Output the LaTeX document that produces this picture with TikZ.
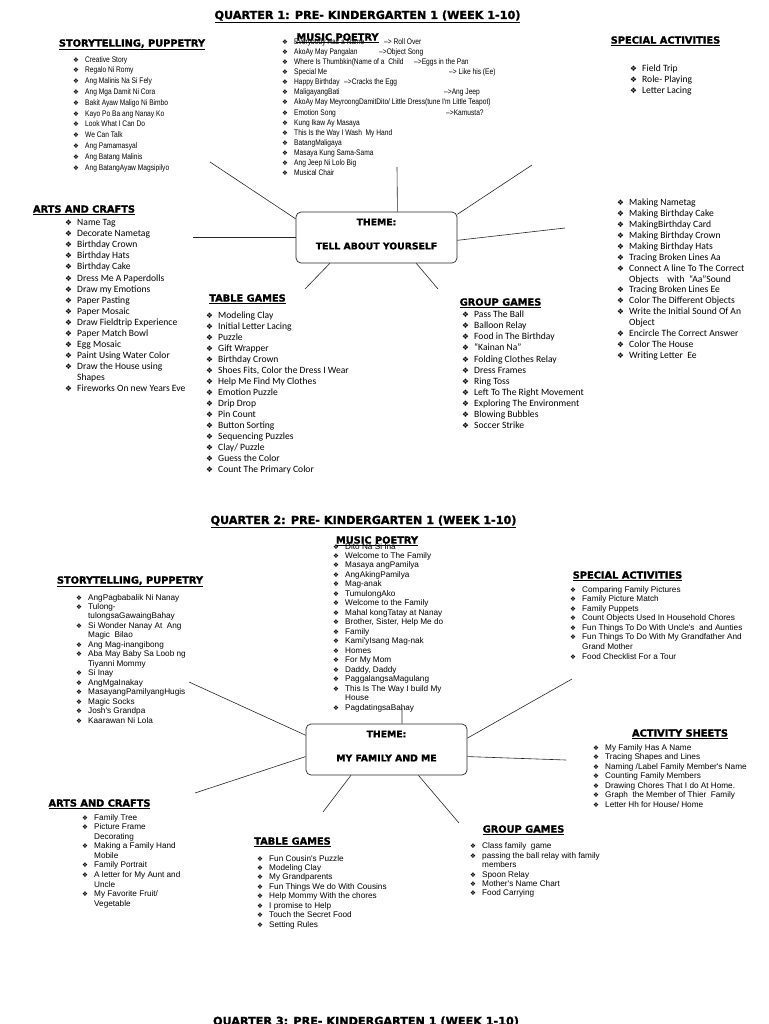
\documentclass[tikz,border=0pt]{standalone}
\usepackage{fontspec}
\usepackage{tikz}
\newfontfamily\arialfont{Liberation Sans}
\newfontfamily\narrowfont{Liberation Sans}[FakeStretch=0.82]
\newfontfamily\califont{Carlito}
\newfontfamily\headfont{DejaVu Sans}[BoldFeatures={FakeBold=1.5}]
\newfontfamily\bulfont{DejaVu Sans}[Scale=0.8]
\newcommand\bul{\makebox[12pt][l]{\bulfont ❖}}
\newcommand\itm[1]{\bul & #1\\}
\newcommand\cnt[1]{& #1\\}
\newcommand\arr[3]{\makebox[#1][l]{#2}#3}
\newenvironment{blist}{\begin{tabular}{@{}l@{}l@{}}}{\end{tabular}}

\begin{document}
\begin{tikzpicture}[
    x=1pt, y=-1pt,
    every node/.style={inner sep=0pt},
    link/.style={draw=black!85, line width=0.6pt},
    title/.style={font=\headfont\bfseries\fontsize{11.2}{13}\selectfont, anchor=base},
    head/.style={font=\headfont\bfseries\fontsize{9.8}{12}\selectfont, anchor=base},
    themebox/.style={
        draw=black!85,
        line width=0.7pt,
        rounded corners=5pt,
        minimum width=161pt,
        minimum height=51pt
    },
    themetext/.style={font=\headfont\bfseries\fontsize{9.3}{11}\selectfont},
    listq1/.style={font=\narrowfont\fontsize{8.1}{#1}\selectfont, anchor=north west},
    listcal/.style={font=\califont\fontsize{9.6}{#1}\selectfont, anchor=north west},
    listq2/.style={font=\arialfont\fontsize{8.2}{#1}\selectfont, anchor=north west}
]
\fill[white] (0,0) rectangle (768,1024);
\useasboundingbox (0,0) rectangle (768,1024);

% quarter 1
\node[title] (q1) at (367.5,19) {\underline{QUARTER 1: PRE- KINDERGARTEN 1 (WEEK 1-10)}};

\node[themebox] (theme1) at (376.5,237.5) {};
\node[themetext] (th1a) at (376.5,222) {THEME:};
\node[themetext] (th1b) at (376.5,246) {TELL ABOUT YOURSELF};

\node[listq1=10.8] (st1) at (73,54.3) {\begin{blist}
\itm{Creative Story}
\itm{Regalo Ni Romy}
\itm{Ang Malinis Na Si Fely}
\itm{Ang Mga Damit Ni Cora}
\itm{Bakit Ayaw Maligo Ni Bimbo}
\itm{Kayo Po Ba ang Nanay Ko}
\itm{Look What I Can Do}
\itm{We Can Talk}
\itm{Ang Pamamasyal}
\itm{Ang Batang Malinis}
\itm{Ang BatangAyaw Magsipilyo}
\end{blist}};
\node[head] (st1h) at (132,46.6) {\underline{STORYTELLING, PUPPETRY}};

\node[listq1=10.15] (mp1) at (282,36.7) {\begin{blist}
\itm{\arr{90pt}{Everybody Has a Name}{–> Roll Over}}
\itm{\arr{85pt}{AkoAy May Pangalan}{–>Object Song}}
\itm{\arr{120pt}{Where Is Thumbkin(Name of a\ \ Child}{–>Eggs in the Pan}}
\itm{\arr{155pt}{Special Me}{–> Like his (Ee)}}
\itm{\arr{50pt}{Happy Birthday}{–>Cracks the Egg}}
\itm{\arr{150pt}{MaligayangBati}{–>Ang Jeep}}
\itm{AkoAy May MeyroongDamitDito/ Little Dress(tune I'm Little Teapot)}
\itm{\arr{152pt}{Emotion Song}{–>Kamusta?}}
\itm{Kung Ikaw Ay Masaya}
\itm{This Is the Way I Wash\ \ My Hand}
\itm{BatangMaligaya}
\itm{Masaya Kung Sama-Sama}
\itm{Ang Jeep Ni Lolo Big}
\itm{Musical Chair}
\end{blist}};
\node[head] (mp1h) at (337.5,40.6) {\underline{MUSIC POETRY}};

\node[head] (sa1h) at (665.5,43.6) {\underline{SPECIAL ACTIVITIES}};
\node[listcal=11] (sa1) at (630,63.7) {\begin{blist}
\itm{Field Trip}
\itm{Role- Playing}
\itm{Letter Lacing}
\end{blist}};

\node[listcal=10.93] (ws1) at (617,197.7) {\begin{blist}
\itm{Making Nametag}
\itm{Making Birthday Cake}
\itm{MakingBirthday Card}
\itm{Making Birthday Crown}
\itm{Making Birthday Hats}
\itm{Tracing Broken Lines Aa}
\itm{Connect A line To The Correct}
\cnt{Objects\ \ \ \ with\ \ “Aa”Sound}
\itm{Tracing Broken Lines Ee}
\itm{Color The Different Objects}
\itm{Write the Initial Sound Of An}
\cnt{Object}
\itm{Encircle The Correct Answer}
\itm{Color The House}
\itm{Writing Letter\ \ Ee}
\end{blist}};

\node[head] (ac1h) at (84,212.6) {\underline{ARTS AND CRAFTS}};
\node[listcal=11.07] (ac1) at (65,217.7) {\begin{blist}
\itm{Name Tag}
\itm{Decorate Nametag}
\itm{Birthday Crown}
\itm{Birthday Hats}
\itm{Birthday Cake}
\itm{Dress Me A Paperdolls}
\itm{Draw my Emotions}
\itm{Paper Pasting}
\itm{Paper Mosaic}
\itm{Draw Fieldtrip Experience}
\itm{Paper Match Bowl}
\itm{Egg Mosaic}
\itm{Paint Using Water Color}
\itm{Draw the House using}
\cnt{Shapes}
\itm{Fireworks On new Years Eve}
\end{blist}};

\node[head] (tg1h) at (247.5,301.6) {\underline{TABLE GAMES}};
\node[listcal=11] (tg1) at (206,310.7) {\begin{blist}
\itm{Modeling Clay}
\itm{Initial Letter Lacing}
\itm{Puzzle}
\itm{Gift Wrapper}
\itm{Birthday Crown}
\itm{Shoes Fits, Color the Dress I Wear}
\itm{Help Me Find My Clothes}
\itm{Emotion Puzzle}
\itm{Drip Drop}
\itm{Pin Count}
\itm{Button Sorting}
\itm{Sequencing Puzzles}
\itm{Clay/ Puzzle}
\itm{Guess the Color}
\itm{Count The Primary Color}
\end{blist}};

\node[head] (gg1h) at (500.5,305.6) {\underline{GROUP GAMES}};
\node[listcal=11.1] (gg1) at (462,309.7) {\begin{blist}
\itm{Pass The Ball}
\itm{Balloon Relay}
\itm{Food in The Birthday}
\itm{“Kainan Na”}
\itm{Folding Clothes Relay}
\itm{Dress Frames}
\itm{Ring Toss}
\itm{Left To The Right Movement}
\itm{Exploring The Environment}
\itm{Blowing Bubbles}
\itm{Soccer Strike}
\end{blist}};

\coordinate (st1e) at (210,162);
\coordinate (ac1e) at (193,237.5);
\coordinate (tg1e) at (305,289);
\coordinate (gg1e) at (438,289);
\coordinate (mp1e) at (397,167);
\coordinate (sa1e) at (532,165);
\coordinate (ws1e) at (565,228);
\draw[link] (theme1.167) -- (st1e);
\draw[link] (theme1.west) -- (ac1e);
\draw[link] (theme1.209) -- (tg1e);
\draw[link] (theme1.327) -- (gg1e);
\draw[link] (theme1.51) -- (mp1e);
\draw[link] (theme1.16) -- (sa1e);
\draw[link] (theme1.358) -- (ws1e);

% quarter 2
\node[title] (q2) at (363.5,524) {\underline{QUARTER 2: PRE- KINDERGARTEN 1 (WEEK 1-10)}};

\node[themebox] (theme2) at (386.5,749.5) {};
\node[themetext] (th2a) at (386.5,734) {THEME:};
\node[themetext] (th2b) at (386.5,758) {MY FAMILY AND ME};

\node[head] (st2h) at (130,583.6) {\underline{STORYTELLING, PUPPETRY}};
\node[listq2=9.46] (st2) at (76,593.2) {\begin{blist}
\itm{AngPagbabalik Ni Nanay}
\itm{Tulong-}
\cnt{tulongsaGawaingBahay}
\itm{Si Wonder Nanay At\ \ Ang}
\cnt{Magic\ \ Bilao}
\itm{Ang Mag-inangibong}
\itm{Aba May Baby Sa Loob ng}
\cnt{Tiyanni Mommy}
\itm{Si Inay}
\itm{AngMgaInakay}
\itm{MasayangPamilyangHugis}
\itm{Magic Socks}
\itm{Josh's Grandpa}
\itm{Kaarawan Ni Lola}
\end{blist}};

\node[listq2=9.47] (mp2) at (333,542.2) {\begin{blist}
\itm{Dito Na Si Ina}
\itm{Welcome to The Family}
\itm{Masaya angPamilya}
\itm{AngAkingPamilya}
\itm{Mag-anak}
\itm{TumulongAko}
\itm{Welcome to the Family}
\itm{Mahal kongTatay at Nanay}
\itm{Brother, Sister, Help Me do}
\itm{Family}
\itm{Kami'yIsang Mag-nak}
\itm{Homes}
\itm{For My Mom}
\itm{Daddy, Daddy}
\itm{PaggalangsaMagulang}
\itm{This Is The Way I build My}
\cnt{House}
\itm{PagdatingsaBahay}
\end{blist}};
\node[head] (mp2h) at (377,543.6) {\underline{MUSIC POETRY}};

\node[head] (sa2h) at (627.5,578.6) {\underline{SPECIAL ACTIVITIES}};
\node[listq2=9.57] (sa2) at (570,585.2) {\begin{blist}
\itm{Comparing Family Pictures}
\itm{Family Picture Match}
\itm{Family Puppets}
\itm{Count Objects Used In Household Chores}
\itm{Fun Things To Do With Uncle's\ \ and Aunties}
\itm{Fun Things To Do With My Grandfather And}
\cnt{Grand Mother}
\itm{Food Checklist For a Tour}
\end{blist}};

\node[head] (as2h) at (680,736.6) {\underline{ACTIVITY SHEETS}};
\node[listq2=9.5] (as2) at (593,743.2) {\begin{blist}
\itm{My Family Has A Name}
\itm{Tracing Shapes and Lines}
\itm{Naming /Label Family Member's Name}
\itm{Counting Family Members}
\itm{Drawing Chores That I do At Home.}
\itm{Graph\ \ the Member of Thier\ \ Family}
\itm{Letter Hh for House/ Home}
\end{blist}};

\node[head] (ac2h) at (99.5,806.6) {\underline{ARTS AND CRAFTS}};
\node[listq2=9.56] (ac2) at (82,813.2) {\begin{blist}
\itm{Family Tree}
\itm{Picture Frame}
\cnt{Decorating}
\itm{Making a Family Hand}
\cnt{Mobile}
\itm{Family Portrait}
\itm{A letter for My Aunt and}
\cnt{Uncle}
\itm{My Favorite Fruit/}
\cnt{Vegetable}
\end{blist}};

\node[head] (tg2h) at (292.5,844.6) {\underline{TABLE GAMES}};
\node[listq2=9.43] (tg2) at (257,854.2) {\begin{blist}
\itm{Fun Cousin's Puzzle}
\itm{Modeling Clay}
\itm{My Grandparents}
\itm{Fun Things We do With Cousins}
\itm{Help Mommy With the chores}
\itm{I promise to Help}
\itm{Touch the Secret Food}
\itm{Setting Rules}
\end{blist}};

\node[head] (gg2h) at (523.5,832.6) {\underline{GROUP GAMES}};
\node[listq2=9.4] (gg2) at (470,842.2) {\begin{blist}
\itm{Class family\ \ game}
\itm{passing the ball relay with family}
\cnt{members}
\itm{Spoon Relay}
\itm{Mother's Name Chart}
\itm{Food Carrying}
\end{blist}};

\coordinate (st2e) at (189,682);
\coordinate (ac2e) at (195,793);
\coordinate (mp2e) at (402,708);
\coordinate (tg2e) at (323,812);
\coordinate (gg2e) at (459,823);
\coordinate (sa2e) at (572,679);
\coordinate (as2e) at (566,760);
\draw[link] (theme2.170) -- (st2e);
\draw[link] (theme2.185) -- (ac2e);
\draw[link] (theme2.59) -- (mp2e);
\draw[link] (theme2.216) -- (tg2e);
\draw[link] (theme2.321) -- (gg2e);
\draw[link] (theme2.8) -- (sa2e);
\draw[link] (theme2.355) -- (as2e);

% quarter 3
\node[title] (q3) at (366,1025) {\underline{QUARTER 3: PRE- KINDERGARTEN 1 (WEEK 1-10)}};
\end{tikzpicture}
\end{document}
